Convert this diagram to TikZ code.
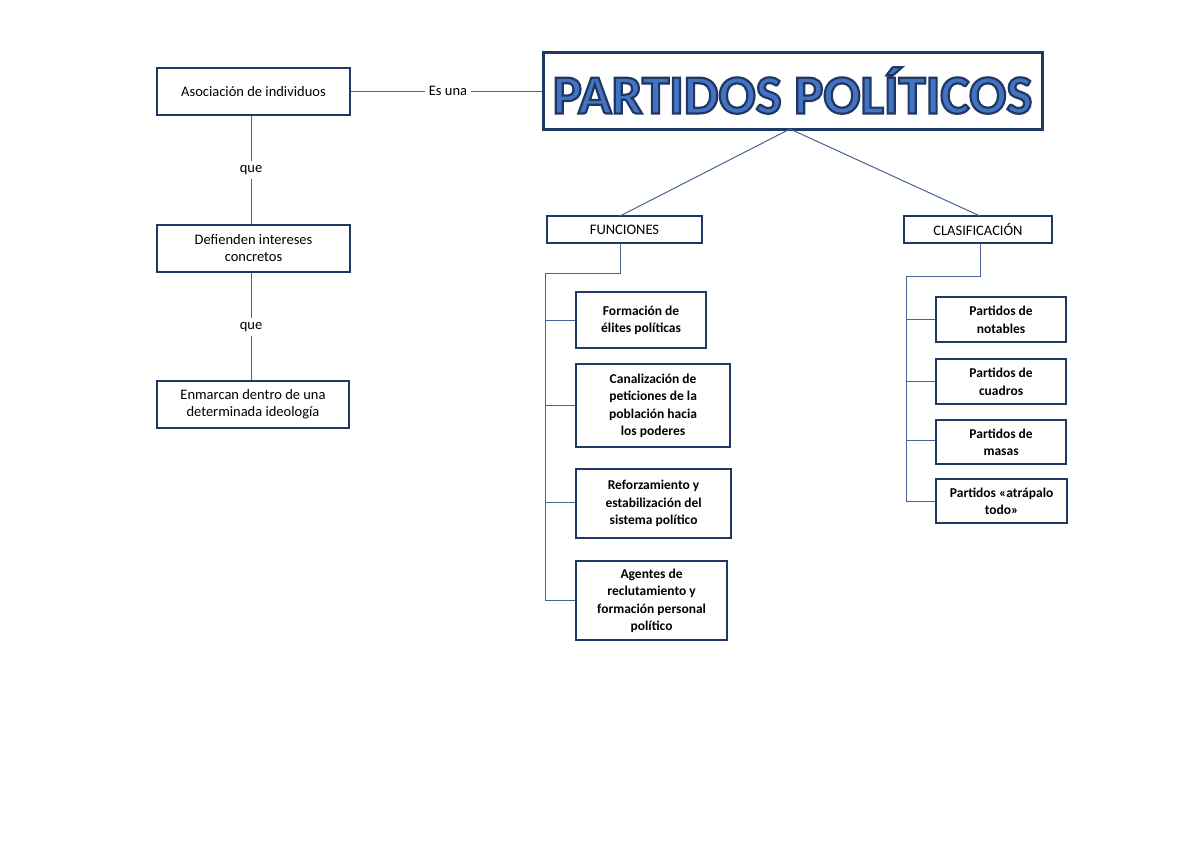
\documentclass[tikz,border=0pt]{standalone}
\usepackage{fontspec}
\setmainfont{Carlito}
\begin{document}
\begin{tikzpicture}[x=1pt,y=-1pt,
  bx/.style={draw=navy,line width=2.2pt,fill=white,inner sep=0pt,align=center,font=\fontsize{14.5}{17}\selectfont},
  bb/.style={bx,font=\bfseries\fontsize{13.5}{17.5}\selectfont},
  ln/.style={draw=lnc,line width=1pt},
  lab/.style={font=\fontsize{14.5}{16}\selectfont,inner sep=4pt}]
\definecolor{navy}{HTML}{1F3864}
\definecolor{lnc}{HTML}{4A6396}
\useasboundingbox (0,0) rectangle (1200,849);
\node[bx,minimum width=193pt,minimum height=47pt] (aso) at (253.5,91.5) {Asociación de individuos};
\node[bx,minimum width=193pt,minimum height=47pt] (def) at (253.5,248.5) {Defienden intereses\\concretos};
\node[bx,minimum width=192pt,minimum height=47pt] (enm) at (253,404.5) {Enmarcan dentro de una\\determinada ideología};
\node[draw=navy,line width=3pt,minimum width=499pt,minimum height=77pt,inner sep=0pt] (tit) at (792.5,90.5)
 {\special{pdf:literal direct q 2 Tr 2.2 w 0.12 0.22 0.39 RG 0.27 0.45 0.77 rg}\bfseries\fontsize{55}{55}\selectfont PARTIDOS POLÍTICOS\special{pdf:literal direct Q}};
\node[lab] (esuna) at (448,91) {Es una};
\node[lab] (q1) at (251,170) {que};
\node[lab] (q2) at (251,327) {que};
\draw[ln] (aso.east) -- (esuna.west|-aso.east);
\draw[ln] (esuna.east|-aso.east) -- (tit.west|-aso.east);
\draw[ln] (aso.south -| q1) -- (q1.north);
\draw[ln] (q1.south) -- (def.north -| q1);
\draw[ln] (def.south -| q2) -- (q2.north);
\draw[ln] (q2.south) -- (enm.north -| q2);
\node[bx,minimum width=155pt,minimum height=27pt] (fun) at (624.5,229.5) {FUNCIONES};
\node[bx,minimum width=148pt,minimum height=27pt] (cla) at (978,229.5) {CLASIFICACIÓN};
\coordinate (tb) at (790,129);
\draw[ln] (tb) -- (620,216);
\draw[ln] (tb) -- (980,216);
\node[bb,minimum width=130pt,minimum height=56pt,anchor=north west] (f1) at (575,291) {Formación de\\élites políticas};
\node[bb,minimum width=154pt,minimum height=83pt,anchor=north west] (f2) at (575,363) {Canalización de\\peticiones de la\\población hacia\\los poderes};
\node[bb,minimum width=155pt,minimum height=69pt,anchor=north west] (f3) at (575,468) {Reforzamiento y\\estabilización del\\sistema político};
\node[bb,minimum width=151pt,minimum height=79pt,anchor=north west] (f4) at (575,560) {Agentes de\\reclutamiento y\\formación personal\\político};
\coordinate (fa) at (620,273); \coordinate (fb) at (545,273);
\draw[ln] (620,243) -- (fa) -- (fb) -- (545,600);
\draw[ln] (545,320) -- (f1.west|-545,320);
\draw[ln] (545,405) -- (f2.west|-545,405);
\draw[ln] (545,502) -- (f3.west|-545,502);
\draw[ln] (545,600) -- (f4.west|-545,600);
\node[bb,minimum width=130pt,minimum height=45pt,anchor=north west] (c1) at (935,296) {Partidos de\\notables};
\node[bb,minimum width=130pt,minimum height=45pt,anchor=north west] (c2) at (935,358) {Partidos de\\cuadros};
\node[bb,minimum width=130pt,minimum height=44pt,anchor=north west] (c3) at (935,419) {Partidos de\\masas};
\node[bb,minimum width=131pt,minimum height=44pt,anchor=north west] (c4) at (935,478) {Partidos «atrápalo\\todo»};
\draw[ln] (980,243) -- (980,276) -- (906,276) -- (906,501);
\draw[ln] (906,319) -- (c1.west|-906,319);
\draw[ln] (906,381) -- (c2.west|-906,381);
\draw[ln] (906,440) -- (c3.west|-906,440);
\draw[ln] (906,501) -- (c4.west|-906,501);
\end{tikzpicture}
\end{document}
